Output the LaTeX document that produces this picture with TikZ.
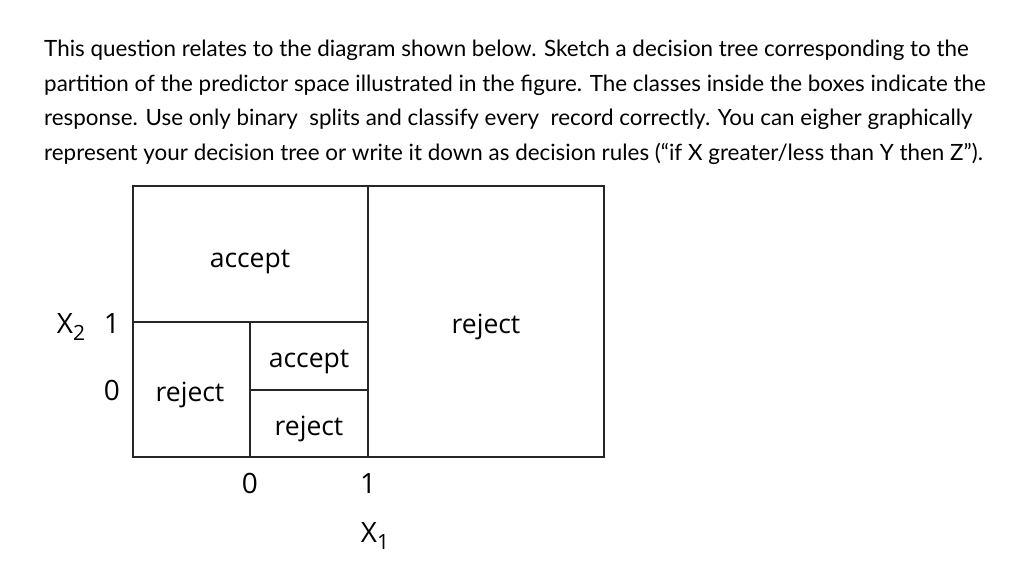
\documentclass[tikz,border=0pt]{standalone}
\usepackage{fontspec}
\setmainfont{Lato}
\newfontfamily\boxfont{Open Sans}
\newcommand{\subidx}[1]{\raisebox{-7pt}{\fontsize{21}{24}\selectfont #1}}
\tikzset{
	qline/.style={anchor=base west, inner sep=0pt, font=\fontsize{22.4}{26}\selectfont},
	cls/.style={anchor=base, inner sep=0pt, font=\boxfont\fontsize{26.5}{30}\selectfont},
	tick/.style={anchor=base, inner sep=0pt, font=\boxfont\fontsize{28}{30}\selectfont}
}

\begin{document}
\begin{tikzpicture}[x=1pt,y=-1pt]
			\useasboundingbox (0,0) rectangle (1024,563);
			% Aufgabentext
			\node[qline] (l1) at (44,56.5) {This question relates to the diagram shown below. Sketch a decision tree corresponding to the};
			\node[qline] (l2) at (44,91.2) {partition of the predictor space illustrated in the figure. The classes inside the boxes indicate the};
			\node[qline] (l3) at (44,125.9) {response. Use only binary\ \ splits and classify every\ \ record correctly. You can eigher graphically};
			\node[qline] (l4) at (44,160.6) {represent your decision tree or write it down as decision rules (“if X greater/less than Y then Z”).};
			
			% Partition
			\draw[line width=1.4pt, black!85] (133,186) rectangle (604,457);
			\draw[line width=1.4pt, black!85] (368,186) -- (368,457);
			\draw[line width=1.4pt, black!85] (133,322) -- (368,322);
			\draw[line width=1.4pt, black!85] (250,322) -- (250,457);
			\draw[line width=1.4pt, black!85] (250,390) -- (368,390);
			
			\node[cls] (acc1) at (250,267) {accept};
			\node[cls] (rej1) at (486,333) {reject};
			\node[cls] (acc2) at (309,367) {accept};
			\node[cls] (rej2) at (190,401) {reject};
			\node[cls] (rej3) at (309,435) {reject};
			
			% Achsen
			\node[tick] (xzwei) at (71,333) {X\subidx{2}};
			\node[tick] (yeins) at (112,333) {1};
			\node[tick] (ynull) at (112,400) {0};
			\node[tick] (xnull) at (250,493) {0};
			\node[tick] (xeins) at (368,493) {1};
			\node[tick] (xeins2) at (375,542) {X\subidx{1}};
		\end{tikzpicture}
\end{document}
